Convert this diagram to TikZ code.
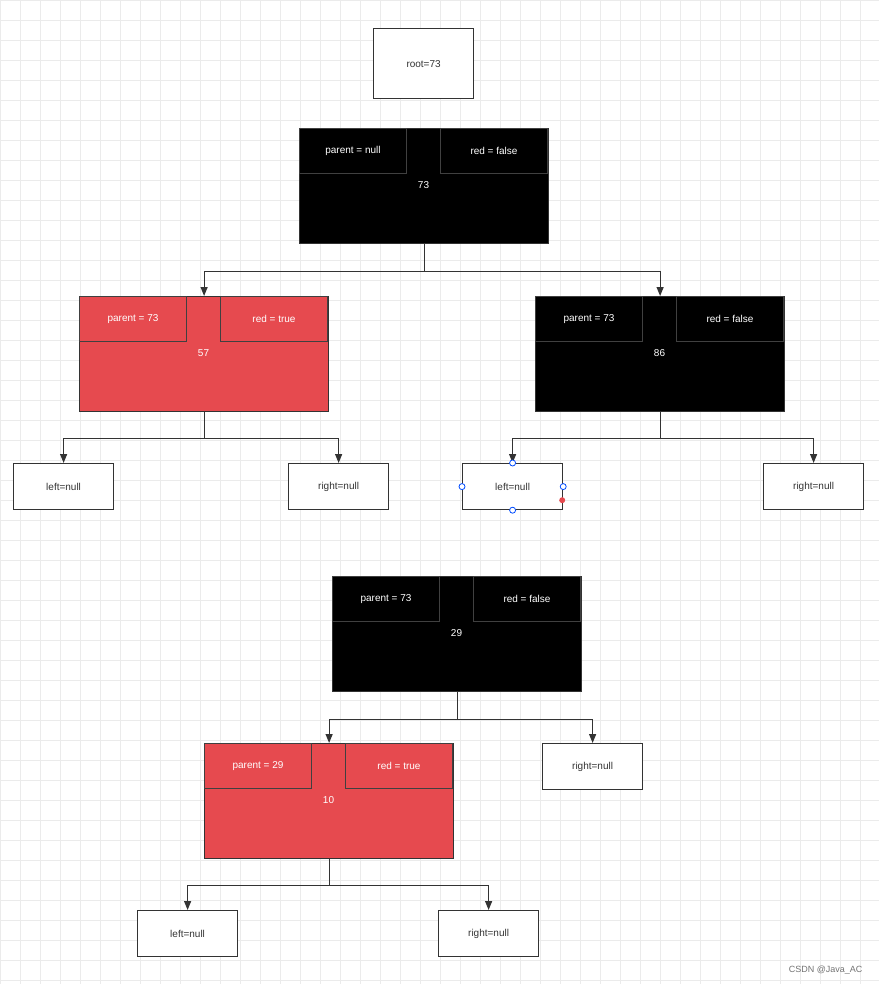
\documentclass[tikz,border=0pt]{standalone}
\usepackage{fontspec}
\setmainfont{Liberation Sans}
\usetikzlibrary{arrows.meta}
\definecolor{rbred}{HTML}{E64A4F}
\definecolor{edge}{HTML}{333333}
\tikzset{
 leaf/.style={draw=edge,line width=1.2pt,fill=white,minimum width=100pt,minimum height=46pt,anchor=north west,font=\fontsize{10}{12}\selectfont,text=black!80},
 outer/.style={draw=edge,line width=1.2pt,minimum width=249pt,minimum height=115pt,anchor=north west,inner sep=0},
 inner/.style={draw=black!75,line width=1pt,minimum width=107pt,minimum height=45pt,anchor=north west,text=white,font=\fontsize{10}{12}\selectfont},
 val/.style={text=white,font=\fontsize{10}{12}\selectfont},
 conn/.style={draw=edge,line width=1.2pt,-{Triangle[length=9pt,width=7pt]}},
 handle/.style={circle,draw=blue!70!cyan,fill=white,inner sep=0,minimum size=6pt,line width=0.8pt}
}
\newcommand{\rbnode}[7]{%
 \node[outer,fill=#4] (#1) at (#2,#3) {};
 \node[inner,fill=#4] (#1p) at (#2,#3) {#5};
 \node[inner,fill=#4,anchor=north east] (#1r) at ($(#2,#3)+(249,0)$) {#6};
 \node[val] (#1v) at ($(#2,#3)+(124.5,57)$) {#7};
}
\usetikzlibrary{calc}
\begin{document}
\begin{tikzpicture}[x=1pt,y=-1pt]
\useasboundingbox (0,0) rectangle (879,984);
\fill[white] (0,0) rectangle (879,984);
\draw[black!8,line width=0.5pt] (0,0) grid[step=20pt] (879,984);
\node[leaf,minimum height=70pt] (root) at (373,28) {root=73};
\rbnode{a}{299}{128}{black}{parent = null}{red = false}{73}
\rbnode{b}{79}{296}{rbred}{parent = 73}{red = true}{57}
\rbnode{c}{535}{296}{black}{parent = 73}{red = false}{86}
\rbnode{d}{332}{576}{black}{parent = 73}{red = false}{29}
\rbnode{e}{204}{743}{rbred}{parent = 29}{red = true}{10}
\node[leaf] (bl) at (13,463) {left=null};
\node[leaf] (br) at (288,463) {right=null};
\node[leaf] (cl) at (462,463) {left=null};
\node[leaf] (cr) at (763,463) {right=null};
\node[leaf] (dr) at (542,743) {right=null};
\node[leaf] (el) at (137,910) {left=null};
\node[leaf] (er) at (438,910) {right=null};
\draw[conn] (a.south) -- ++(0,27) -| (b.north);
\draw[conn] (a.south) -- ++(0,27) -| (c.north);
\draw[conn] (b.south) -- ++(0,26) -| (bl.north);
\draw[conn] (b.south) -- ++(0,26) -| (br.north);
\draw[conn] (c.south) -- ++(0,26) -| (cl.north);
\draw[conn] (c.south) -- ++(0,26) -| (cr.north);
\draw[conn] (d.south) -- ++(0,27) -| (e.north);
\draw[conn] (d.south) -- ++(0,27) -| (dr.north);
\draw[conn] (e.south) -- ++(0,26) -| (el.north);
\draw[conn] (e.south) -- ++(0,26) -| (er.north);
\foreach \p in {north,south,east,west} \node[handle] at (cl.\p) {};
\fill[rbred] ($(cl.south east)+(-1,-10)$) circle (3pt);
\node[anchor=south east,text=black!55,font=\fontsize{9}{10}\selectfont] (wm) at (866,978) {CSDN @Java\_AC};
\end{tikzpicture}
\end{document}
